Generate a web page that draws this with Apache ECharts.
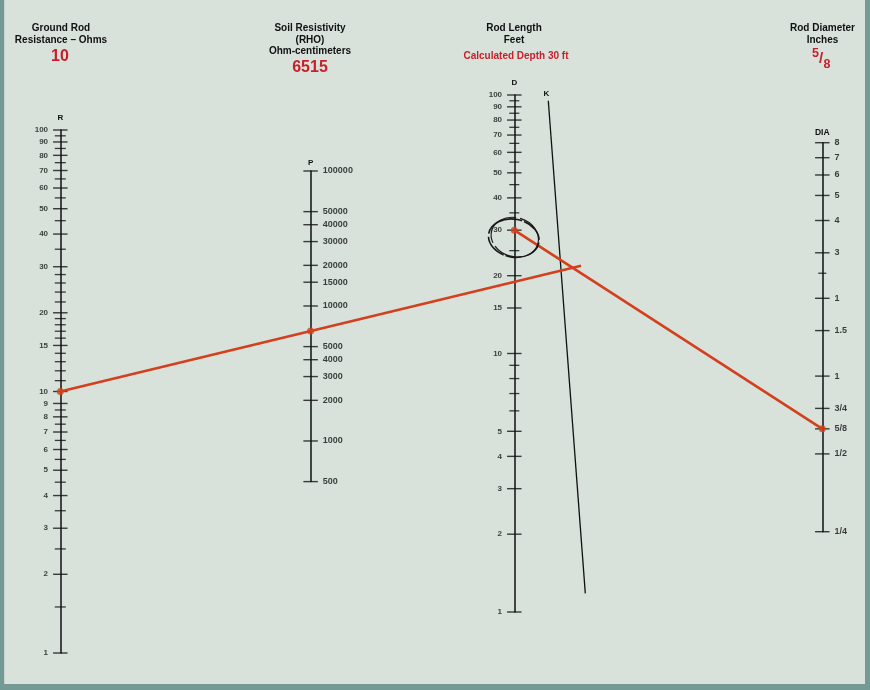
<!DOCTYPE html>
<html><head><meta charset="utf-8">
<script src="https://cdn.jsdelivr.net/npm/echarts@6/dist/echarts.min.js"></script>
<style>html,body{margin:0;padding:0;background:#d8e2db}#c{width:870px;height:690px}</style>
</head><body><div id="c"></div><script>
// ---- data ----
const rTicks = [100, 90, 80, 70, 60, 50, 40, 30, 20, 15, 10, 9, 8, 7, 6, 5, 4, 3, 2, 1];
const rLabels = ['100','90','80','70','60','50','40','30','20','15','10','9','8','7','6','5','4','3','2','1'];
const rMinor = [95, 85, 75, 65, 55, 45, 35, 28, 26, 24, 22, 19, 18, 17, 16, 14, 13, 12, 11, 8.5, 7.5, 6.5, 5.5, 4.5, 3.5, 2.5, 1.5];
const pTicks = [100000, 50000, 40000, 30000, 20000, 15000, 10000, 5000, 4000, 3000, 2000, 1000, 500];
const pLabels = ['100000','50000','40000','30000','20000','15000','10000','5000','4000','3000','2000','1000','500'];
const dTicks = [100, 90, 80, 70, 60, 50, 40, 30, 20, 15, 10, 5, 4, 3, 2, 1];
const dLabels = ['100','90','80','70','60','50','40','30','20','15','10','5','4','3','2','1'];
const dMinor = [95, 85, 75, 65, 55, 45, 35, 25, 9, 8, 7, 6];
const diaTicks = [8, 7, 6, 5, 4, 3, 2, 1.5, 1, 0.75, 0.625, 0.5, 0.25];
const diaLabels = ['8','7','6','5','4','3','1','1.5','1','3/4','5/8','1/2','1/4'];
const diaMinor = [2.5];
const resistance = 10;      // ohms
const resistivity = 6515;   // ohm-cm
const depth = 30;           // ft
const diameter = 0.625;     // in (5/8)

// ---- layout ----
const FONT = '"Liberation Sans", Arial, Helvetica, sans-serif';
const INK = '#111111';
const RED = '#d3401d';
const TITLE_RED = '#c8202b';
const scales = [
  {x: 60.3, top: 130, bottom: 653, min: 1, max: 100, name: 'R', gap: 8, ticks: rTicks, labels: rLabels, minor: rMinor, side: 'left', fs: 8, minorW: 11},
  {x: 310.6, top: 171, bottom: 481.6, min: 500, max: 100000, name: 'P', gap: 4, ticks: pTicks, labels: pLabels, minor: [], side: 'right', fs: 9, minorW: 10},
  {x: 514.3, top: 95, bottom: 612, min: 1, max: 100, name: 'D', gap: 8, ticks: dTicks, labels: dLabels, minor: dMinor, side: 'left', fs: 8, minorW: 10},
  {x: 822.3, top: 142.7, bottom: 531.7, min: 0.25, max: 8, name: 'DIA', gap: 6, ticks: diaTicks, labels: diaLabels, minor: diaMinor, side: 'right', fs: 9, minorW: 8}
];
const markValues = [resistance, resistivity, depth, diameter];
const kLine = {topD: 95, bottomD: 1.18, topOffset: 34, bottomOffset: 71};

const chart = echarts.init(document.getElementById('c'), null, {renderer: 'canvas'});

const grids = [], xAxes = [], yAxes = [], series = [];
scales.forEach((s, i) => {
  grids.push({left: s.x, top: s.top, width: 20, height: s.bottom - s.top, outerBoundsMode: 'none', containLabel: false});
  xAxes.push({type: 'value', gridIndex: i, min: 0, max: 1, show: false});
  yAxes.push({
    type: 'log', gridIndex: i, logBase: 10, min: s.min, max: s.max, position: 'left',
    name: s.name, nameLocation: 'end', nameGap: s.gap,
    nameTextStyle: {fontSize: s.name === 'DIA' ? 8.5 : 8, fontWeight: 'bold', color: INK, fontFamily: FONT, align: 'center'},
    axisLine: {show: true, lineStyle: {color: INK, width: 1.5}},
    axisTick: {show: false}, axisLabel: {show: false}, splitLine: {show: false}, minorTick: {show: false}
  });
  series.push({
    type: 'scatter', xAxisIndex: i, yAxisIndex: i, silent: true, clip: false, z: 2,
    symbol: 'rect', symbolSize: [14.5, 1.4], itemStyle: {color: INK},
    data: s.ticks.map(v => [0, v]),
    label: {
      show: true, position: s.side, distance: 5,
      formatter: p => s.labels[p.dataIndex],
      fontSize: s.fs, fontWeight: 'bold', color: INK, fontFamily: FONT
    },
    emphasis: {disabled: true}
  });
  if (s.minor.length) {
    series.push({
      type: 'scatter', xAxisIndex: i, yAxisIndex: i, silent: true, clip: false, z: 2,
      symbol: 'rect', symbolSize: [s.minorW, 1.3], itemStyle: {color: INK},
      data: s.minor.map(v => [0, v]), emphasis: {disabled: true}
    });
  }
  series.push({
    type: 'scatter', xAxisIndex: i, yAxisIndex: i, silent: true, clip: false, z: 5,
    symbol: 'circle', symbolSize: 7, itemStyle: {color: RED},
    data: [[0, markValues[i]]], emphasis: {disabled: true}
  });
});

chart.setOption({
  animation: false,
  backgroundColor: '#d8e2db',
  grid: grids, xAxis: xAxes, yAxis: yAxes, series: series
});

// ---- construction lines computed through the axes ----
const px = (g, v) => chart.convertToPixel({gridIndex: g}, [0, v]);
const Rp = px(0, resistance), Pp = px(1, resistivity), Dp = px(2, depth), DIp = px(3, diameter);
const K1 = [Dp[0] + kLine.topOffset, px(2, kLine.topD)[1]];
const K2 = [Dp[0] + kLine.bottomOffset, px(2, kLine.bottomD)[1]];
function intersect(a, b, c, d) {
  const den = (a[0]-b[0])*(c[1]-d[1]) - (a[1]-b[1])*(c[0]-d[0]);
  const t = ((a[0]-c[0])*(c[1]-d[1]) - (a[1]-c[1])*(c[0]-d[0])) / den;
  return [a[0] + t*(b[0]-a[0]), a[1] + t*(b[1]-a[1])];
}
const I = intersect(Rp, Pp, K1, K2);
const slope = (Pp[1]-Rp[1]) / (Pp[0]-Rp[0]);
const endX = I[0] + 20;
const E = [endX, Rp[1] + slope*(endX - Rp[0])];

function txt(x, y, text, size, color, extra) {
  return Object.assign({
    type: 'text', x: x, y: y, z: 10, silent: true,
    style: {text: text, fill: color || INK, font: 'bold ' + size + 'px ' + FONT,
            align: 'center', verticalAlign: 'middle', textAlign: 'center', textVerticalAlign: 'middle'}
  }, extra || {});
}

const BORDER = '#739a95';
const graphic = [
  {type: 'rect', shape: {x: 0, y: 0, width: 4, height: 690}, style: {fill: BORDER}, z: 20, silent: true},
  {type: 'rect', shape: {x: 865, y: 0, width: 5, height: 690}, style: {fill: BORDER}, z: 20, silent: true},
  {type: 'rect', shape: {x: 0, y: 684, width: 870, height: 6}, style: {fill: BORDER}, z: 20, silent: true},
  {type: 'rect', shape: {x: 4, y: 0, width: 1, height: 684}, style: {fill: '#c4d3cc'}, z: 20, silent: true},

  txt(61, 28.5, 'Ground Rod', 10),
  txt(61, 40, 'Resistance \u2013 Ohms', 10),
  txt(60, 57, String(resistance), 16, TITLE_RED),

  txt(310, 28.5, 'Soil Resistivity', 10),
  txt(310, 40, '(RHO)', 10),
  txt(310, 51.5, 'Ohm-centimeters', 10),
  txt(310, 68, String(resistivity), 16, TITLE_RED),

  txt(514, 28.5, 'Rod Length', 10),
  txt(514, 40, 'Feet', 10),
  txt(516, 56.5, 'Calculated Depth ' + depth + ' ft', 10, TITLE_RED),

  txt(822.5, 28.5, 'Rod Diameter', 10),
  txt(822.5, 40, 'Inches', 10),
  txt(815.5, 54, '5', 12.5, TITLE_RED),
  txt(821, 58.5, '/', 15, TITLE_RED),
  txt(827, 64.5, '8', 12.5, TITLE_RED),

  // K line
  {type: 'line', shape: {x1: K1[0], y1: K1[1], x2: K2[0], y2: K2[1]}, style: {stroke: INK, lineWidth: 1.3}, z: 1, silent: true},
  txt(K1[0] - 2, K1[1] - 6.5, 'K', 8),

  // red construction lines
  {type: 'polyline', shape: {points: [Rp, E]}, style: {stroke: RED, lineWidth: 2.6, fill: null}, z: 3, silent: true},
  {type: 'polyline', shape: {points: [Dp, DIp]}, style: {stroke: RED, lineWidth: 2.6, fill: null}, z: 3, silent: true},

  // hand-drawn circle around the depth mark
  {type: 'ellipse', x: Dp[0] - 0.5, y: Dp[1] + 8, rotation: -0.18, shape: {cx: 0, cy: 0, rx: 25.5, ry: 19},
   style: {fill: null, stroke: '#1a1a1a', lineWidth: 1.6, lineDash: [40, 2, 25, 3]}, z: 4, silent: true},
  {type: 'ellipse', x: Dp[0] + 0.5, y: Dp[1] + 7, rotation: -0.28, shape: {cx: 0, cy: 0, rx: 24, ry: 19.5},
   style: {fill: null, stroke: '#1a1a1a', lineWidth: 1.2, lineDash: [30, 4, 50, 6]}, z: 4, silent: true}
];
chart.setOption({graphic: graphic});
</script></body></html>
